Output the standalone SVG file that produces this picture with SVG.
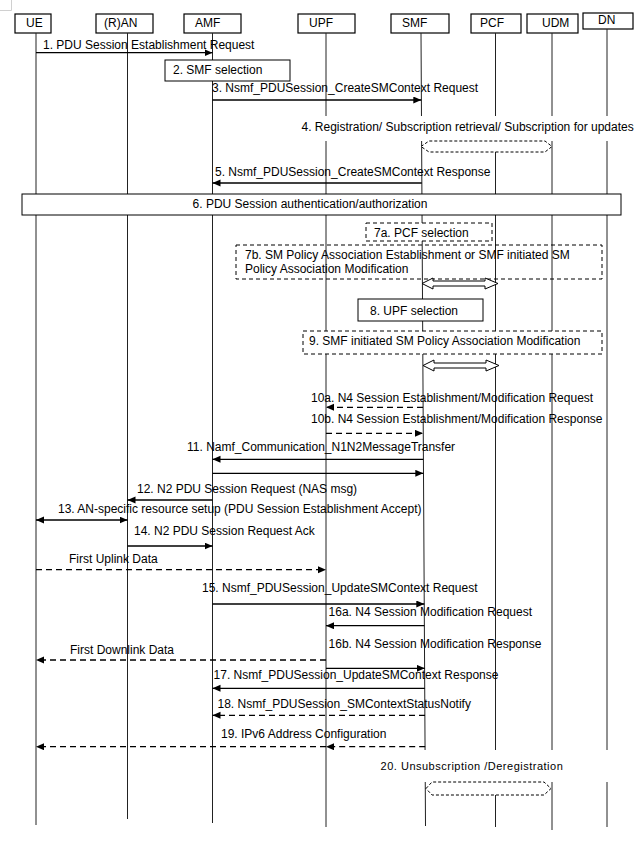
<svg xmlns="http://www.w3.org/2000/svg" width="644" height="845" viewBox="0 0 644 845">
<style>
text{font-family:"Liberation Sans",Arial,Helvetica,sans-serif;font-size:12px;fill:#000}
.hd{fill:#fff;stroke:#000;stroke-width:1.2}
.life{stroke:#222;stroke-width:1;fill:none}
.box{fill:#fff;stroke:#000;stroke-width:1}
.dbox{fill:#fff;stroke:#000;stroke-width:1;stroke-dasharray:4,3}
.nbox{fill:none;stroke:#000;stroke-width:1;stroke-dasharray:4,3}
.msg{stroke:#000;stroke-width:1.3;fill:none;marker-end:url(#ah)}
.dmsg{stroke:#000;stroke-width:1.3;fill:none;stroke-dasharray:6,4;marker-end:url(#ah)}
.blk{fill:#fff;stroke:#000;stroke-width:1}
.dblk{fill:#fff;stroke:#000;stroke-width:1;stroke-dasharray:3,2}
.wb{fill:#fff;stroke:none}
.t20{font-size:11px;letter-spacing:0.5px}
</style>
<defs>
<marker id="ah" markerUnits="userSpaceOnUse" markerWidth="9" markerHeight="8" refX="8" refY="3.5" orient="auto-start-reverse">
<path d="M0,0 L8,3.5 L0,7 z" fill="#000"/>
</marker>
</defs>
<rect width="644" height="845" fill="#fff"/>
<path d="M0,10.5 H11.5 V0" fill="none" stroke="#d0d0d0" stroke-width="1"/>

<g id="UE"><rect class="hd" x="15" y="14" width="36" height="19"/><text x="26" y="27">UE</text><line class="life" x1="36" y1="33" x2="36" y2="825"/></g>
<g id="RAN"><rect class="hd" x="96" y="14" width="57" height="19"/><text x="104" y="27">(R)AN</text><line class="life" x1="127.5" y1="33" x2="127.5" y2="819"/></g>
<g id="AMF"><rect class="hd" x="184" y="14" width="57" height="19"/><text x="195" y="27">AMF</text><line class="life" x1="212.5" y1="33" x2="212.5" y2="823"/></g>
<g id="UPF"><rect class="hd" x="298" y="14" width="57" height="19"/><text x="309" y="27">UPF</text><line class="life" x1="326" y1="33" x2="326" y2="827"/></g>
<g id="SMF"><rect class="hd" x="391" y="14" width="58" height="19"/><text x="402" y="27">SMF</text><line class="life" x1="421" y1="33" x2="425.5" y2="826"/></g>
<g id="PCF"><rect class="hd" x="471" y="14" width="50" height="19"/><text x="480" y="27">PCF</text><line class="life" x1="495.5" y1="33" x2="495.5" y2="827"/></g>
<g id="UDM"><rect class="hd" x="527" y="14" width="51" height="19"/><text x="542" y="27">UDM</text><line class="life" x1="552" y1="33" x2="552" y2="830"/></g>
<g id="DN"><rect class="hd" x="583" y="13" width="50" height="16"/><text x="598" y="24">DN</text><line class="life" x1="607" y1="29" x2="607" y2="827"/></g>

<g id="step2"><rect class="box" x="165" y="60" width="125" height="21"/><text x="173" y="74">2. SMF selection</text></g>
<g id="step4"><rect class="wb" x="298" y="116" width="338" height="25"/><text x="301.5" y="131">4. Registration/ Subscription retrieval/ Subscription for updates</text>
<polygon class="dblk" points="421,146.5 429,141 545,141 552,146.5 545,152 429,152"/></g>
<g id="step6"><rect class="box" x="22" y="194" width="599" height="21"/><text x="310" y="208" text-anchor="middle">6. PDU Session authentication/authorization</text></g>
<g id="step7a"><rect class="dbox" x="366" y="223" width="126" height="18"/><text x="374" y="237">7a. PCF selection</text></g>
<g id="step7b"><rect class="nbox" x="236" y="245" width="366" height="34"/><text x="245" y="259">7b. SM Policy Association Establishment or SMF initiated SM</text><text x="245" y="273">Policy Association Modification</text>
<polygon class="blk" points="422,283.5 433,278 433,281 485,281 485,278 498,283.5 485,289 485,286 433,286 433,289"/></g>
<g id="step8"><rect class="box" x="358" y="299" width="125" height="22"/><text x="370" y="315">8. UPF selection</text></g>
<g id="step9"><rect class="dbox" x="303" y="331" width="299" height="23"/><text x="309" y="345">9. SMF initiated SM Policy Association Modification</text>
<polygon class="blk" points="423,365.5 434,360 434,363 486,363 486,360 499,365.5 486,371 486,368 434,368 434,371"/></g>
<g id="step20"><rect class="wb" x="372" y="750" width="250" height="32"/><text class="t20" x="380.6" y="770">20. Unsubscription /Deregistration</text>
<polygon class="dblk" points="426,788.5 432,782 544,782 551,788.5 544,795 432,795"/></g>

<g id="connectors">
<line class="msg" x1="36" y1="52.7" x2="212.5" y2="52.7"/>
<text x="43" y="49">1. PDU Session Establishment Request</text>
<line class="msg" x1="212.5" y1="100" x2="421.3" y2="100"/>
<text x="212" y="92">3. Nsmf_PDUSession_CreateSMContext Request</text>
<line class="msg" x1="421.8" y1="183" x2="212.5" y2="183"/>
<text x="215" y="176">5. Nsmf_PDUSession_CreateSMContext Response</text>
<line class="dmsg" x1="423" y1="407.3" x2="326" y2="407.3"/>
<text x="311" y="401.7">10a. N4 Session Establishment/Modification Request</text>
<line class="dmsg" x1="326" y1="433.3" x2="423" y2="433.3"/>
<text x="311" y="423.3">10b. N4 Session Establishment/Modification Response</text>
<text x="187" y="451">11. Namf_Communication_N1N2MessageTransfer</text>
<line class="msg" x1="423.3" y1="459.3" x2="212.5" y2="459.3"/>
<line class="msg" x1="212.5" y1="473.3" x2="423.3" y2="473.3"/>
<text x="137" y="492.7">12. N2 PDU Session Request (NAS msg)</text>
<line class="msg" x1="212.5" y1="500" x2="127.5" y2="500"/>
<text x="58" y="513.3">13. AN-specific resource setup (PDU Session Establishment Accept)</text>
<line class="msg" x1="36" y1="520" x2="127.5" y2="520" marker-start="url(#ah)"/>
<text x="134" y="535">14. N2 PDU Session Request Ack</text>
<line class="msg" x1="127.5" y1="546" x2="212.5" y2="546"/>
<text x="69" y="563.3">First Uplink Data</text>
<line class="dmsg" x1="36" y1="569.7" x2="326" y2="569.7"/>
<text x="202" y="591.7">15. Nsmf_PDUSession_UpdateSMContext Request</text>
<line class="msg" x1="212.5" y1="604" x2="424.3" y2="604"/>
<text x="328.6" y="615.7">16a. N4 Session Modification Request</text>
<line class="msg" x1="424.4" y1="625.7" x2="326" y2="625.7"/>
<text x="328.6" y="648">16b. N4 Session Modification Response</text>
<text x="70" y="654.3">First Downlink Data</text>
<line class="dmsg" x1="326" y1="660" x2="36" y2="660"/>
<line class="msg" x1="326" y1="668.3" x2="424.7" y2="668.3"/>
<text x="213.6" y="679">17. Nsmf_PDUSession_UpdateSMContext Response</text>
<line class="msg" x1="424.8" y1="688.3" x2="212.5" y2="688.3"/>
<text x="217.5" y="707.7">18. Nsmf_PDUSession_SMContextStatusNotify</text>
<line class="dmsg" x1="425" y1="715.3" x2="212.5" y2="715.3"/>
<text x="221" y="738.3">19. IPv6 Address Configuration</text>
<line class="dmsg" x1="425.2" y1="746.7" x2="326" y2="746.7"/>
<line class="dmsg" x1="326" y1="746.7" x2="36" y2="746.7"/>
</g>
</svg>
